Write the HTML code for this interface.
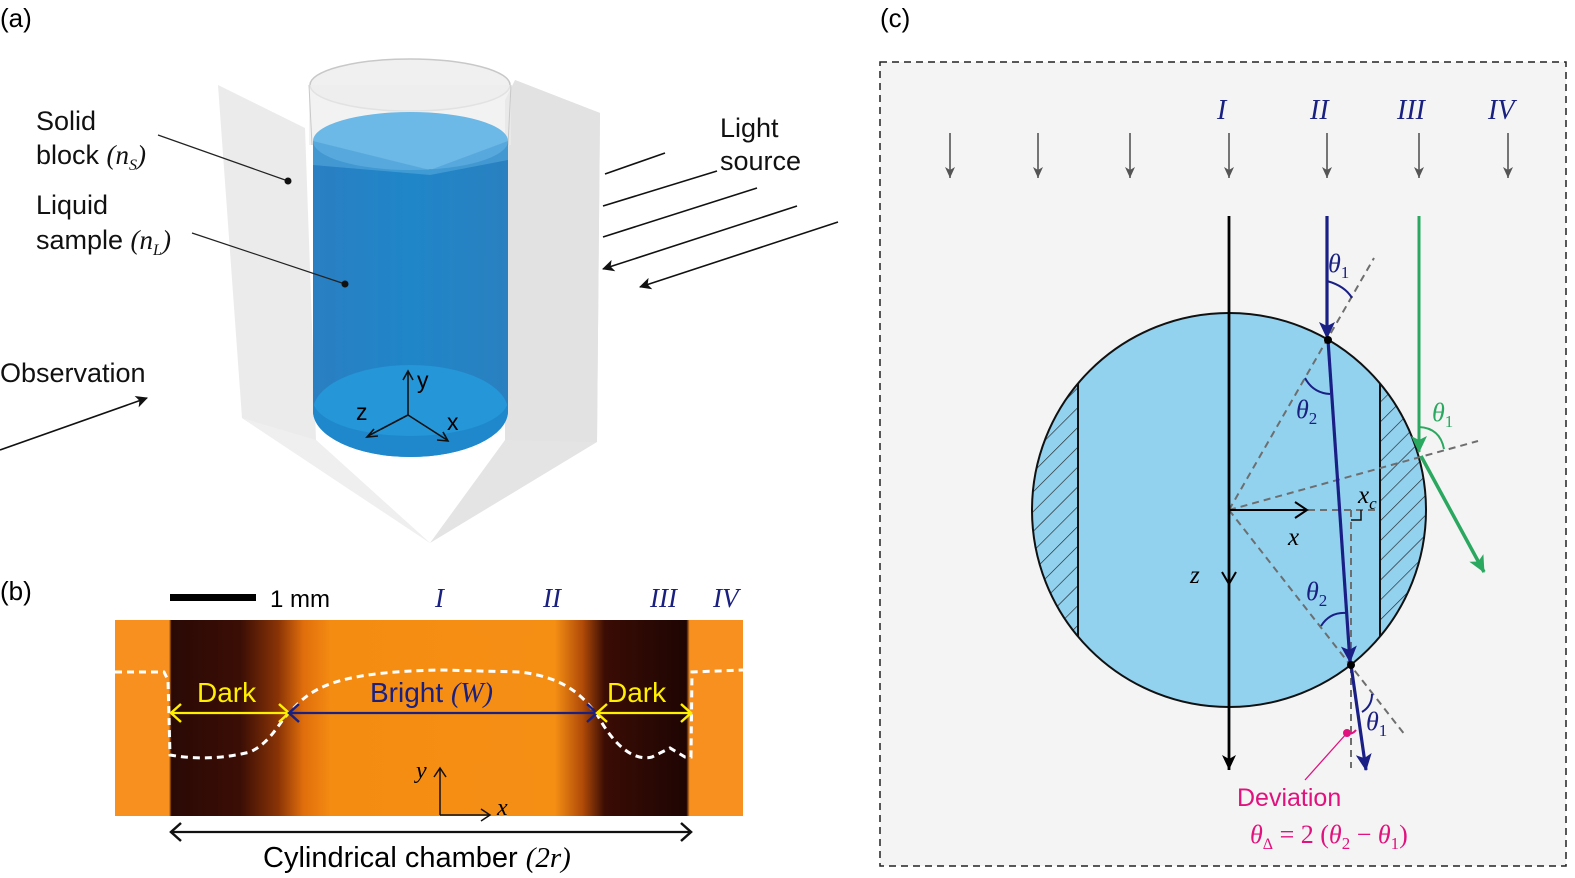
<!DOCTYPE html>
<html><head><meta charset="utf-8"><style>
html,body{margin:0;padding:0;background:#fff;}
svg{display:block;}
.s{font-family:"Liberation Sans",sans-serif;}
.m{font-family:"Liberation Serif",serif;font-style:italic;}
</style></head><body>
<svg width="1575" height="878" viewBox="0 0 1575 878" xmlns="http://www.w3.org/2000/svg">
<defs>
<marker id="ak" markerWidth="12" markerHeight="12" refX="11" refY="6" orient="auto" markerUnits="userSpaceOnUse"><path d="M0,0 L12,6 L0,12 L3,6z" fill="#111"/></marker>
<marker id="ag" markerWidth="12" markerHeight="12" refX="11" refY="6" orient="auto" markerUnits="userSpaceOnUse"><path d="M0,1 L11,6 L0,11 L3,6z" fill="#555"/></marker>
<marker id="abk" markerWidth="16" markerHeight="16" refX="15" refY="8" orient="auto" markerUnits="userSpaceOnUse"><path d="M0,1 L15,8 L0,15 L4,8z" fill="#000"/></marker>
<marker id="abl" markerWidth="18" markerHeight="18" refX="16" refY="9" orient="auto" markerUnits="userSpaceOnUse"><path d="M0,1 L17,9 L0,17 L4,9z" fill="#1a1f85"/></marker>
<marker id="agr" markerWidth="18" markerHeight="18" refX="16" refY="9" orient="auto" markerUnits="userSpaceOnUse"><path d="M0,1 L17,9 L0,17 L4,9z" fill="#2aa860"/></marker>
<marker id="oay" markerWidth="14" markerHeight="20" refX="12" refY="10" orient="auto-start-reverse" markerUnits="userSpaceOnUse"><path d="M2,1 L12,10 L2,19" fill="none" stroke="#ffef00" stroke-width="2.5"/></marker>
<marker id="oab" markerWidth="14" markerHeight="20" refX="12" refY="10" orient="auto-start-reverse" markerUnits="userSpaceOnUse"><path d="M2,1 L12,10 L2,19" fill="none" stroke="#1a2080" stroke-width="2.5"/></marker>
<marker id="oak" markerWidth="14" markerHeight="20" refX="12" refY="10" orient="auto-start-reverse" markerUnits="userSpaceOnUse"><path d="M2,1 L12,10 L2,19" fill="none" stroke="#111" stroke-width="2.5"/></marker>
<linearGradient id="img" x1="115" x2="743" y1="0" y2="0" gradientUnits="userSpaceOnUse">
<stop offset="0" stop-color="#f7901e"/><stop offset="0.086" stop-color="#f7901e"/>
<stop offset="0.09" stop-color="#2a0905"/><stop offset="0.2" stop-color="#3b0e05"/>
<stop offset="0.26" stop-color="#8a3406"/><stop offset="0.3" stop-color="#e06e0c"/>
<stop offset="0.345" stop-color="#f58c12"/><stop offset="0.7" stop-color="#f58f14"/>
<stop offset="0.745" stop-color="#b04a08"/><stop offset="0.78" stop-color="#3a0c04"/>
<stop offset="0.91" stop-color="#1e0503"/><stop offset="0.915" stop-color="#f7901e"/>
<stop offset="1" stop-color="#f7901e"/>
</linearGradient>
<linearGradient id="liq" x1="0" x2="1" y1="0" y2="0">
<stop offset="0" stop-color="#2a7fc2"/><stop offset="0.5" stop-color="#1f86c8"/><stop offset="1" stop-color="#2a80c0"/>
</linearGradient>
<pattern id="hatch" width="14" height="14" patternUnits="userSpaceOnUse" patternTransform="rotate(45)">
<rect width="14" height="14" fill="#92d2ef"/><line x1="0" y1="0" x2="0" y2="14" stroke="#222" stroke-width="1.3"/>
</pattern>
<clipPath id="cc"><circle cx="1229" cy="510" r="197"/></clipPath>
</defs>

<text x="0" y="27" class="s" font-size="26">(a)</text>
<text x="0" y="600" class="s" font-size="26">(b)</text>
<text x="880" y="27" class="s" font-size="26">(c)</text>

<!-- PANEL A -->
<polygon points="218,85 305,128 316,440 430,543 242,418" fill="#e9e9e9" opacity="0.9"/>
<polygon points="515,80 600,113 597,442 430,543 505,440" fill="#e4e4e4"/>
<polygon points="242,418 316,440 430,543" fill="#efefef"/>
<polygon points="505,100 515,80 600,113 597,442 505,440" fill="#e2e2e2"/>
<ellipse cx="410" cy="85" rx="100" ry="26" fill="#f0f0f0" stroke="#c8c8c8" stroke-width="1.5"/>
<rect x="309" y="85" width="202" height="60" fill="#ececec" opacity="0.7"/>
<line x1="309" y1="85" x2="312" y2="145" stroke="#c8c8c8"/>
<line x1="511" y1="85" x2="508" y2="145" stroke="#c8c8c8"/>
<rect x="313" y="141" width="195" height="270" fill="url(#liq)"/>
<ellipse cx="410.5" cy="411" rx="97.5" ry="46" fill="#2596d8"/>
<path d="M313,411 A97.5,46 0 0 0 508,411 L508,400 A97.5,36 0 0 1 313,400z" fill="#1f88cc"/>
<ellipse cx="410.5" cy="141" rx="97.5" ry="29" fill="#6cb8e6"/>
<polygon points="313,141 430,170 508,141 508,160 430,175 313,165" fill="#4fa2d8" opacity="0.7"/>
<g stroke="#111" stroke-width="1.6" fill="none">
<line x1="408" y1="415" x2="408" y2="372"/><path d="M403,380 L408,371 L413,380"/>
<line x1="408" y1="415" x2="368" y2="436"/><path d="M378,436 L367,437 L374,429"/>
<line x1="408" y1="415" x2="447" y2="440"/><path d="M437,440 L448,441 L443,432"/>
</g>
<text x="417" y="388" class="s" font-size="23">y</text>
<text x="356" y="420" class="s" font-size="23">z</text>
<text x="447" y="430" class="s" font-size="23">x</text>
<g class="s" font-size="27" fill="#111">
<text x="36" y="130">Solid</text>
<text x="36" y="164">block <tspan class="m">(n</tspan><tspan class="m" font-size="16" dy="6">S</tspan><tspan class="m" dy="-6">)</tspan></text>
<text x="36" y="214">Liquid</text>
<text x="36" y="249">sample <tspan class="m">(n</tspan><tspan class="m" font-size="16" dy="6">L</tspan><tspan class="m" dy="-6">)</tspan></text>
<text x="0" y="382">Observation</text>
<text x="720" y="137">Light</text>
<text x="720" y="170">source</text>
</g>
<line x1="158" y1="135" x2="288" y2="181" stroke="#222" stroke-width="1.2"/>
<circle cx="288" cy="181" r="3.5" fill="#111"/>
<line x1="192" y1="233" x2="345" y2="284" stroke="#222" stroke-width="1.2"/>
<circle cx="345" cy="284" r="3.5" fill="#111"/>
<line x1="0" y1="450" x2="147" y2="398" stroke="#111" stroke-width="1.6" marker-end="url(#ak)"/>
<g stroke="#111" stroke-width="1.6">
<line x1="665" y1="153" x2="605" y2="174"/>
<line x1="717" y1="171" x2="603" y2="206"/>
<line x1="757" y1="188" x2="603" y2="237"/>
<line x1="797" y1="206" x2="603" y2="269" marker-end="url(#ak)"/>
<line x1="838" y1="222" x2="640" y2="287" marker-end="url(#ak)"/>
</g>

<!-- PANEL B -->
<rect x="170" y="594" width="86" height="7" fill="#000"/>
<text x="270" y="607" class="s" font-size="24">1 mm</text>
<g class="m" font-size="27" fill="#1a2080">
<text x="435" y="607">I</text><text x="543" y="607">II</text><text x="650" y="607">III</text><text x="713" y="607">IV</text>
</g>
<rect x="115" y="620" width="628" height="196" fill="url(#img)"/>
<path d="M115,672 L164,672 L168,680 L170,755 Q210,762 250,752 C272,742 280,720 290,712 C310,690 330,672 440,670 L520,672 C570,678 585,700 598,716 C612,742 632,762 652,757 L670,748 L685,757 L691,757 L692,672 L743,670" fill="none" stroke="#fff" stroke-width="3" stroke-dasharray="7,5"/>
<g stroke-width="2.2">
<line x1="171" y1="713" x2="289" y2="713" stroke="#ffef00" marker-start="url(#oay)" marker-end="url(#oay)"/>
<line x1="289" y1="713" x2="597" y2="713" stroke="#1a2080" marker-start="url(#oab)" marker-end="url(#oab)"/>
<line x1="597" y1="713" x2="691" y2="713" stroke="#ffef00" marker-start="url(#oay)" marker-end="url(#oay)"/>
</g>
<text x="197" y="702" class="s" font-size="28" fill="#ffef00">Dark</text>
<text x="607" y="702" class="s" font-size="28" fill="#ffef00">Dark</text>
<text x="370" y="702" class="s" font-size="28" fill="#1a2080">Bright <tspan class="m">(W)</tspan></text>
<g stroke="#111" stroke-width="1.5" fill="none">
<line x1="440" y1="815" x2="440" y2="769"/><path d="M434,777 L440,768 L446,777"/>
<line x1="440" y1="815" x2="489" y2="815"/><path d="M481,809 L490,815 L481,821"/>
</g>
<text x="416" y="778" class="m" font-size="24">y</text>
<text x="497" y="815" class="m" font-size="24">x</text>
<line x1="171" y1="832" x2="691" y2="832" stroke="#111" stroke-width="2.2" marker-start="url(#oak)" marker-end="url(#oak)"/>
<text x="263" y="867" class="s" font-size="29">Cylindrical chamber <tspan class="m">(2r)</tspan></text>

<!-- PANEL C -->
<rect x="880" y="62" width="686" height="804" fill="#f4f4f4" stroke="#222" stroke-width="1.5" stroke-dasharray="7,5"/>
<g class="m" font-size="28" fill="#1a2080">
<text x="1217" y="119">I</text><text x="1310" y="119">II</text><text x="1397" y="119">III</text><text x="1488" y="119">IV</text>
</g>
<g stroke="#555" stroke-width="1.6">
<line x1="950" y1="133" x2="950" y2="178" marker-end="url(#ag)"/>
<line x1="1038" y1="133" x2="1038" y2="178" marker-end="url(#ag)"/>
<line x1="1130" y1="133" x2="1130" y2="178" marker-end="url(#ag)"/>
<line x1="1229" y1="133" x2="1229" y2="178" marker-end="url(#ag)"/>
<line x1="1327" y1="133" x2="1327" y2="178" marker-end="url(#ag)"/>
<line x1="1419" y1="133" x2="1419" y2="178" marker-end="url(#ag)"/>
<line x1="1508" y1="133" x2="1508" y2="178" marker-end="url(#ag)"/>
</g>
<circle cx="1229" cy="510" r="197" fill="#92d2ef"/>
<g clip-path="url(#cc)">
<rect x="1020" y="300" width="58" height="420" fill="url(#hatch)"/>
<rect x="1380" y="300" width="60" height="420" fill="url(#hatch)"/>
</g>
<line x1="1078" y1="383" x2="1078" y2="637" stroke="#111" stroke-width="2"/>
<line x1="1380" y1="383" x2="1380" y2="637" stroke="#111" stroke-width="2"/>
<circle cx="1229" cy="510" r="197" fill="none" stroke="#111" stroke-width="2"/>
<g stroke="#6e6e6e" stroke-width="2" stroke-dasharray="7,5" fill="none">
<line x1="1229" y1="510" x2="1374" y2="258"/>
<line x1="1229" y1="510" x2="1478" y2="441"/>
<line x1="1229" y1="510" x2="1405" y2="735"/>
<line x1="1308" y1="510" x2="1380" y2="510"/>
<line x1="1351" y1="510" x2="1351" y2="768"/>
</g>
<path d="M1351,520 L1361,520 L1361,510" fill="none" stroke="#111" stroke-width="1.5"/>
<line x1="1229" y1="216" x2="1229" y2="770" stroke="#000" stroke-width="2.8" marker-end="url(#abk)"/>
<line x1="1229" y1="510" x2="1306" y2="510" stroke="#000" stroke-width="2"/>
<path d="M1295,502 L1307,510 L1295,518" fill="none" stroke="#000" stroke-width="2"/>
<path d="M1222,572 L1229,584 L1236,572" fill="none" stroke="#000" stroke-width="2"/>
<text x="1288" y="545" class="m" font-size="25">x</text>
<text x="1190" y="583" class="m" font-size="25">z</text>
<text x="1358" y="503" class="m" font-size="25">x<tspan font-size="17" dy="6">c</tspan></text>
<line x1="1327" y1="216" x2="1327" y2="338" stroke="#1a1f85" stroke-width="3.2" marker-end="url(#abl)"/>
<line x1="1328" y1="340" x2="1350" y2="662" stroke="#1a1f85" stroke-width="3.2" marker-end="url(#abl)"/>
<line x1="1351" y1="665" x2="1366" y2="770" stroke="#1a1f85" stroke-width="3.2" marker-end="url(#abl)"/>
<circle cx="1328" cy="340" r="4" fill="#000"/>
<circle cx="1351" cy="665" r="4" fill="#000"/>
<g fill="none" stroke="#1a1f85" stroke-width="2">
<path d="M1327,281 Q1345,286 1352,298"/>
<path d="M1305,378 Q1313,393 1330,394"/>
<path d="M1321,626 Q1330,612 1346,613"/>
<path d="M1362,712 Q1372,706 1372,694"/>
</g>
<g class="m" font-size="26" fill="#1a2080">
<text x="1328" y="272">θ<tspan font-size="17" dy="6" font-style="normal">1</tspan></text>
<text x="1296" y="418">θ<tspan font-size="17" dy="6" font-style="normal">2</tspan></text>
<text x="1306" y="600">θ<tspan font-size="17" dy="6" font-style="normal">2</tspan></text>
<text x="1366" y="730">θ<tspan font-size="17" dy="6" font-style="normal">1</tspan></text>
</g>
<line x1="1419" y1="216" x2="1419" y2="452" stroke="#2aa860" stroke-width="3" marker-end="url(#agr)"/>
<line x1="1421" y1="456" x2="1484" y2="572" stroke="#2aa860" stroke-width="3.5" marker-end="url(#agr)"/>
<path d="M1419,427 Q1440,428 1444,449" fill="none" stroke="#2aa860" stroke-width="2"/>
<text x="1432" y="421" class="m" font-size="26" fill="#2aa860">θ<tspan font-size="17" dy="6" font-style="normal">1</tspan></text>
<path d="M1347,733 Q1352,735 1356,730" fill="none" stroke="#e0127e" stroke-width="2"/>
<line x1="1347" y1="733" x2="1305" y2="780" stroke="#e0127e" stroke-width="1.3"/>
<circle cx="1347" cy="733" r="4" fill="#e0127e"/>
<text x="1237" y="806" class="s" font-size="25" fill="#e0127e">Deviation</text>
<text x="1250" y="843" class="m" font-size="26" fill="#e0127e">θ<tspan font-size="16" dy="6" font-style="normal">Δ</tspan><tspan dy="-6" font-style="normal"> = 2 (</tspan>θ<tspan font-size="17" dy="6" font-style="normal">2</tspan><tspan dy="-6" font-style="normal"> − </tspan>θ<tspan font-size="17" dy="6" font-style="normal">1</tspan><tspan dy="-6" font-style="normal">)</tspan></text>
</svg>
</body></html>
